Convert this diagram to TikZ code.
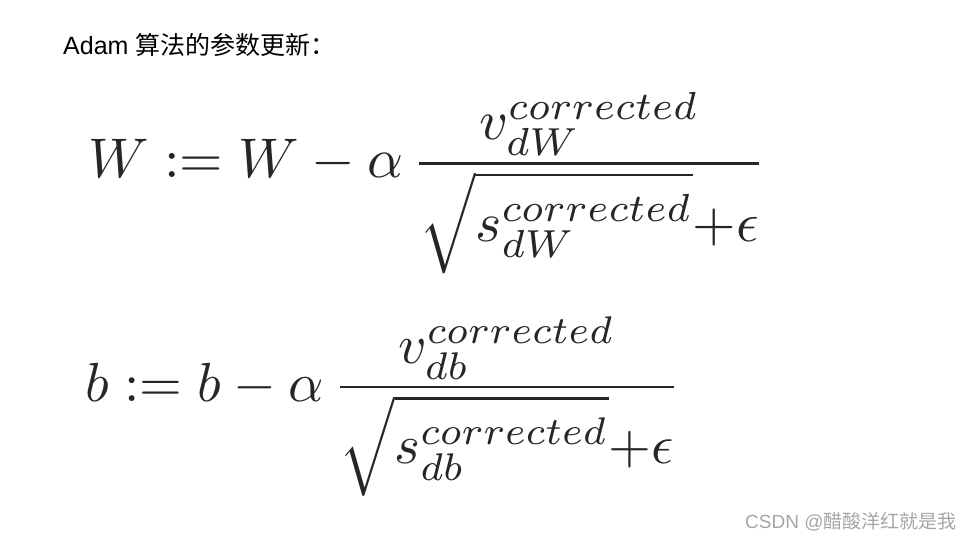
\documentclass[tikz,border=0pt]{standalone}
\usepackage{fontspec}
\setmainfont{Liberation Sans}
\newfontfamily\cjk{Noto Sans CJK SC}
\usepackage{graphicx}
\begin{document}
\begin{tikzpicture}[x=1pt,y=-1pt,
  txt/.style={inner sep=0pt,anchor=west},
  eq/.style={inner sep=0pt,anchor=north west}]
\useasboundingbox[fill=white] (0,0) rectangle (972,542);
\node[txt,font=\fontsize{25}{28}\selectfont] (title) at (63,45) {Adam {\cjk 算法的参数更新：}};
\node[eq,text=black!85] (eqW) at (88,92) {\resizebox{677pt}{!}{$\displaystyle W := W - \alpha\,\frac{v^{corrected}_{dW}}{\sqrt{s^{corrected}_{dW}}{+}\epsilon}$}};
\node[eq,text=black!85] (eqb) at (85,317) {\resizebox{595pt}{!}{$\displaystyle b := b - \alpha\,\frac{v^{corrected}_{db}}{\sqrt{s^{corrected}_{db}}{+}\epsilon}$}};
\node[txt,text=gray!70,font=\fontsize{19}{22}\selectfont] (wm) at (745,522) {CSDN @{\cjk 醋酸洋红就是我}};
\end{tikzpicture}
\end{document}
